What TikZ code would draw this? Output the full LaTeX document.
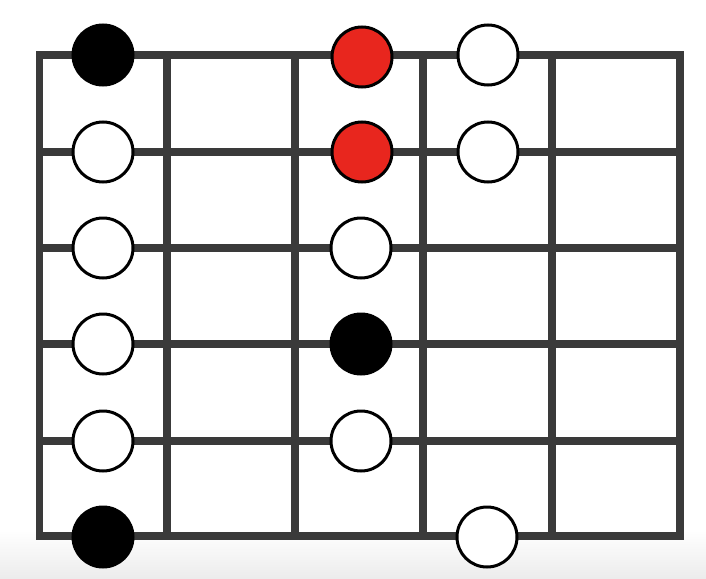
\documentclass[tikz,border=0pt]{standalone}
\begin{document}
\begin{tikzpicture}[x=1pt,y=-1pt,
  grid/.style={line width=7.5pt,draw={rgb,255:red,58;green,58;blue,58},line cap=rect},
  dotbase/.style={circle,minimum size=60pt,inner sep=0pt,line width=3pt,draw=black},
  rootdot/.style={dotbase,fill=black},
  opendot/.style={dotbase,fill=white},
  reddot/.style={dotbase,fill={rgb,255:red,232;green,38;blue,30}}]
\useasboundingbox (0,0) rectangle (706,578);
\fill[white] (0,0) rectangle (706,578);
\shade[top color=white,bottom color={rgb,255:red,236;green,236;blue,236}] (0,530) rectangle (706,578);
% strings
\foreach \y in {55,152,248,344,441,536}
  \draw[grid] (39.5,\y) -- (680,\y);
% frets
\foreach \x in {39.5,167,295,423,552,680}
  \draw[grid] (\x,55) -- (\x,536);
% dots
\node[rootdot] (a1) at (103,55) {};
\node[reddot] (r1) at (362,57) {};
\node[opendot] (c1) at (488,55) {};
\node[opendot] (a2) at (103,152) {};
\node[reddot] (r2) at (362,152) {};
\node[opendot] (c2) at (488,152) {};
\node[opendot] (a3) at (103,248) {};
\node[opendot] (b3) at (361,248) {};
\node[opendot] (a4) at (103,344) {};
\node[rootdot] (b4) at (361,344) {};
\node[opendot] (a5) at (103,441) {};
\node[opendot] (b5) at (361,441) {};
\node[rootdot] (a6) at (103,537) {};
\node[opendot] (c6) at (487,537) {};
\end{tikzpicture}
\end{document}
